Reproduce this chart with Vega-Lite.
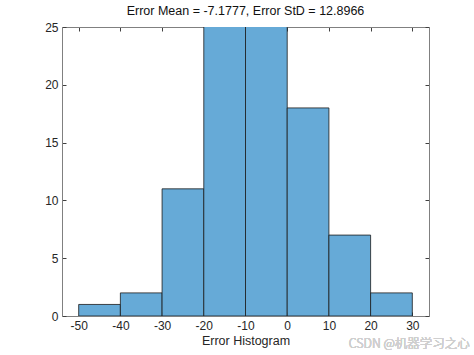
{
  "$schema": "https://vega.github.io/schema/vega-lite/v6.json",
  "autosize": {"type": "none"},
  "padding": {"left": 62, "top": 27, "right": 45, "bottom": 39},
  "width": 367,
  "height": 289,
  "background": "white",
  "config": {
    "font": "Liberation Sans",
    "view": {"stroke": null},
    "axis": {"grid": false, "labelFont": "Liberation Sans", "titleFont": "Liberation Sans", "labelFontSize": 12, "titleFontSize": 12.5, "labelColor": "#262626", "titleColor": "#262626", "domainColor": "#808080", "tickColor": "#404040", "titleFontWeight": "normal", "labelExpr": "replace(datum.label, '−', '-')"}
  },
  "title": {"text": "Error Mean = -7.1777, Error StD = 12.8966", "fontSize": 12.5, "fontWeight": "normal", "color": "#111", "font": "Liberation Sans", "offset": 4},
  "data": {"values": [
    {"lo": -50, "hi": -40, "count": 1},
    {"lo": -40, "hi": -30, "count": 2},
    {"lo": -30, "hi": -20, "count": 11},
    {"lo": -20, "hi": -10, "count": 27},
    {"lo": -10, "hi": 0, "count": 26},
    {"lo": 0, "hi": 10, "count": 18},
    {"lo": 10, "hi": 20, "count": 7},
    {"lo": 20, "hi": 30, "count": 2}
  ]},
  "layer": [
    {
      "mark": {"type": "bar", "fill": "#66AAD7", "stroke": "#1a1a1a", "strokeWidth": 0.8, "clip": true},
      "encoding": {
        "x": {"field": "lo", "type": "quantitative", "scale": {"domain": [-54, 34], "nice": false, "zero": false}, "axis": {"values": [-50, -40, -30, -20, -10, 0, 10, 20, 30], "tickSize": -4, "labelPadding": 8, "title": "Error Histogram", "titlePadding": 3}},
        "x2": {"field": "hi"},
        "y": {"field": "count", "type": "quantitative", "scale": {"domain": [0, 25], "nice": false}, "axis": {"values": [0, 5, 10, 15, 20, 25], "tickSize": -4, "labelPadding": 8, "title": null}},
        "y2": {"datum": 0}
      }
    },
    {
      "mark": {"type": "text", "color": "#cfcfcf", "fontSize": 12.5, "font": "Noto Sans CJK SC", "fontWeight": 300, "align": "right", "baseline": "middle", "clip": false},
      "encoding": {
        "x": {"datum": 43.8, "type": "quantitative", "scale": {"domain": [-54, 34], "nice": false, "zero": false}, "axis": {"orient": "top", "values": [-50, -40, -30, -20, -10, 0, 10, 20, 30], "tickSize": -4, "labels": false, "title": null}},
        "y": {"datum": -2.42, "type": "quantitative", "scale": {"domain": [0, 25], "nice": false, "zero": false}, "axis": {"orient": "right", "values": [0, 5, 10, 15, 20, 25], "tickSize": -4, "labels": false, "title": null}},
        "text": {"value": "CSDN @机器学习之心"}
      }
    }
  ],
  "resolve": {"scale": {"x": "independent", "y": "independent"}, "axis": {"x": "independent", "y": "independent"}}
}
